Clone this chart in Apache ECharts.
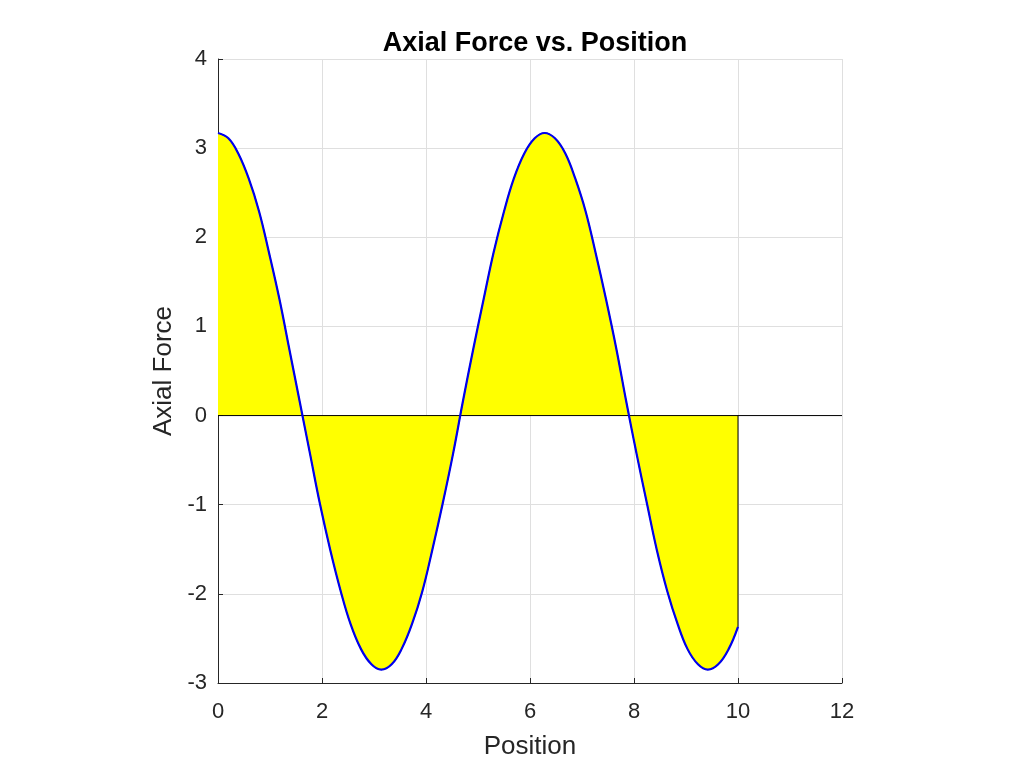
<!DOCTYPE html>
<html>
<head>
<meta charset="utf-8">
<script src="https://cdn.jsdelivr.net/npm/echarts@6/dist/echarts.min.js"></script>
<style>html,body{margin:0;padding:0;background:#fff;}#c{width:1024px;height:768px;}</style>
</head>
<body>
<div id="c"></div>
<script>
var positions = [0,0.20,0.39,0.59,0.79,0.98,1.18,1.37,1.57,1.77,1.96,2.16,2.36,2.55,2.75,2.95,3.14,3.34,3.53,3.73,3.93,4.12,4.32,4.52,4.71,4.91,5.11,5.30,5.50,5.69,5.89,6.09,6.28,6.48,6.68,6.87,7.07,7.26,7.46,7.66,7.85,8.05,8.25,8.44,8.64,8.84,9.03,9.23,9.42,9.62,9.82,10];
var forces = [3.17,3.11,2.94,2.66,2.29,1.83,1.31,0.75,0.16,-0.43,-0.99,-1.51,-1.97,-2.34,-2.62,-2.79,-2.85,-2.79,-2.62,-2.34,-1.97,-1.51,-0.99,-0.43,0.16,0.75,1.31,1.83,2.29,2.66,2.94,3.11,3.17,3.11,2.94,2.66,2.29,1.83,1.31,0.75,0.16,-0.43,-0.99,-1.51,-1.97,-2.34,-2.62,-2.79,-2.85,-2.79,-2.62,-2.37];
var xTicks = [0,2,4,6,8,10,12];
var yTicks = [-3,-2,-1,0,1,2,3,4];

var pts = positions.map(function(x,i){return [x,forces[i]];});
var lastX = positions[positions.length-1], lastY = forces[forces.length-1];
var font = 'Liberation Sans, Arial, Helvetica, sans-serif';

var chart = echarts.init(document.getElementById('c'));
chart.setOption({
  animation:false,
  backgroundColor:'#fff',
  title:{text:'Axial Force vs. Position',left:530,top:25,textAlign:'center',
    textStyle:{fontFamily:font,fontSize:27,fontWeight:'bold',color:'#000'}},
  grid:{left:218,right:182,top:59,bottom:85},
  xAxis:{type:'value',min:xTicks[0],max:xTicks[xTicks.length-1],interval:2,
    name:'Position',nameLocation:'middle',nameGap:51,
    nameTextStyle:{fontFamily:font,fontSize:26,color:'#262626'},
    axisLine:{show:true,onZero:false,lineStyle:{color:'#262626',width:1}},
    axisTick:{show:true,inside:true,length:5,lineStyle:{color:'#262626'}},
    axisLabel:{fontFamily:font,fontSize:22,color:'#262626',margin:18},
    splitLine:{show:true,lineStyle:{color:'#dfdfdf',width:1}}},
  yAxis:{type:'value',min:yTicks[0],max:yTicks[yTicks.length-1],interval:1,
    name:'Axial Force',nameLocation:'middle',nameGap:32,
    nameTextStyle:{fontFamily:font,fontSize:26,color:'#262626'},
    axisLine:{show:true,onZero:false,lineStyle:{color:'#262626',width:1}},
    axisTick:{show:true,inside:true,length:5,lineStyle:{color:'#262626'}},
    axisLabel:{fontFamily:font,fontSize:22,color:'#262626',margin:11},
    splitLine:{show:true,lineStyle:{color:'#dfdfdf',width:1}}},
  series:[
    {type:'line',data:pts,smooth:0.4,symbol:'none',silent:true,
      lineStyle:{color:'#000',width:1},
      areaStyle:{color:'#ffff00',opacity:1,origin:0},z:2},
    {type:'line',data:[[lastX,lastY],[lastX,0]],symbol:'none',silent:true,
      lineStyle:{color:'#000',width:1},z:3},
    {type:'line',data:[[xTicks[0],0],[xTicks[xTicks.length-1],0]],symbol:'none',silent:true,
      lineStyle:{color:'#000',width:1},z:3},
    {type:'line',data:pts,smooth:0.4,symbol:'none',silent:true,
      lineStyle:{color:'#0000ee',width:2.2,join:'round'},z:4}
  ]
});
</script>
</body>
</html>
